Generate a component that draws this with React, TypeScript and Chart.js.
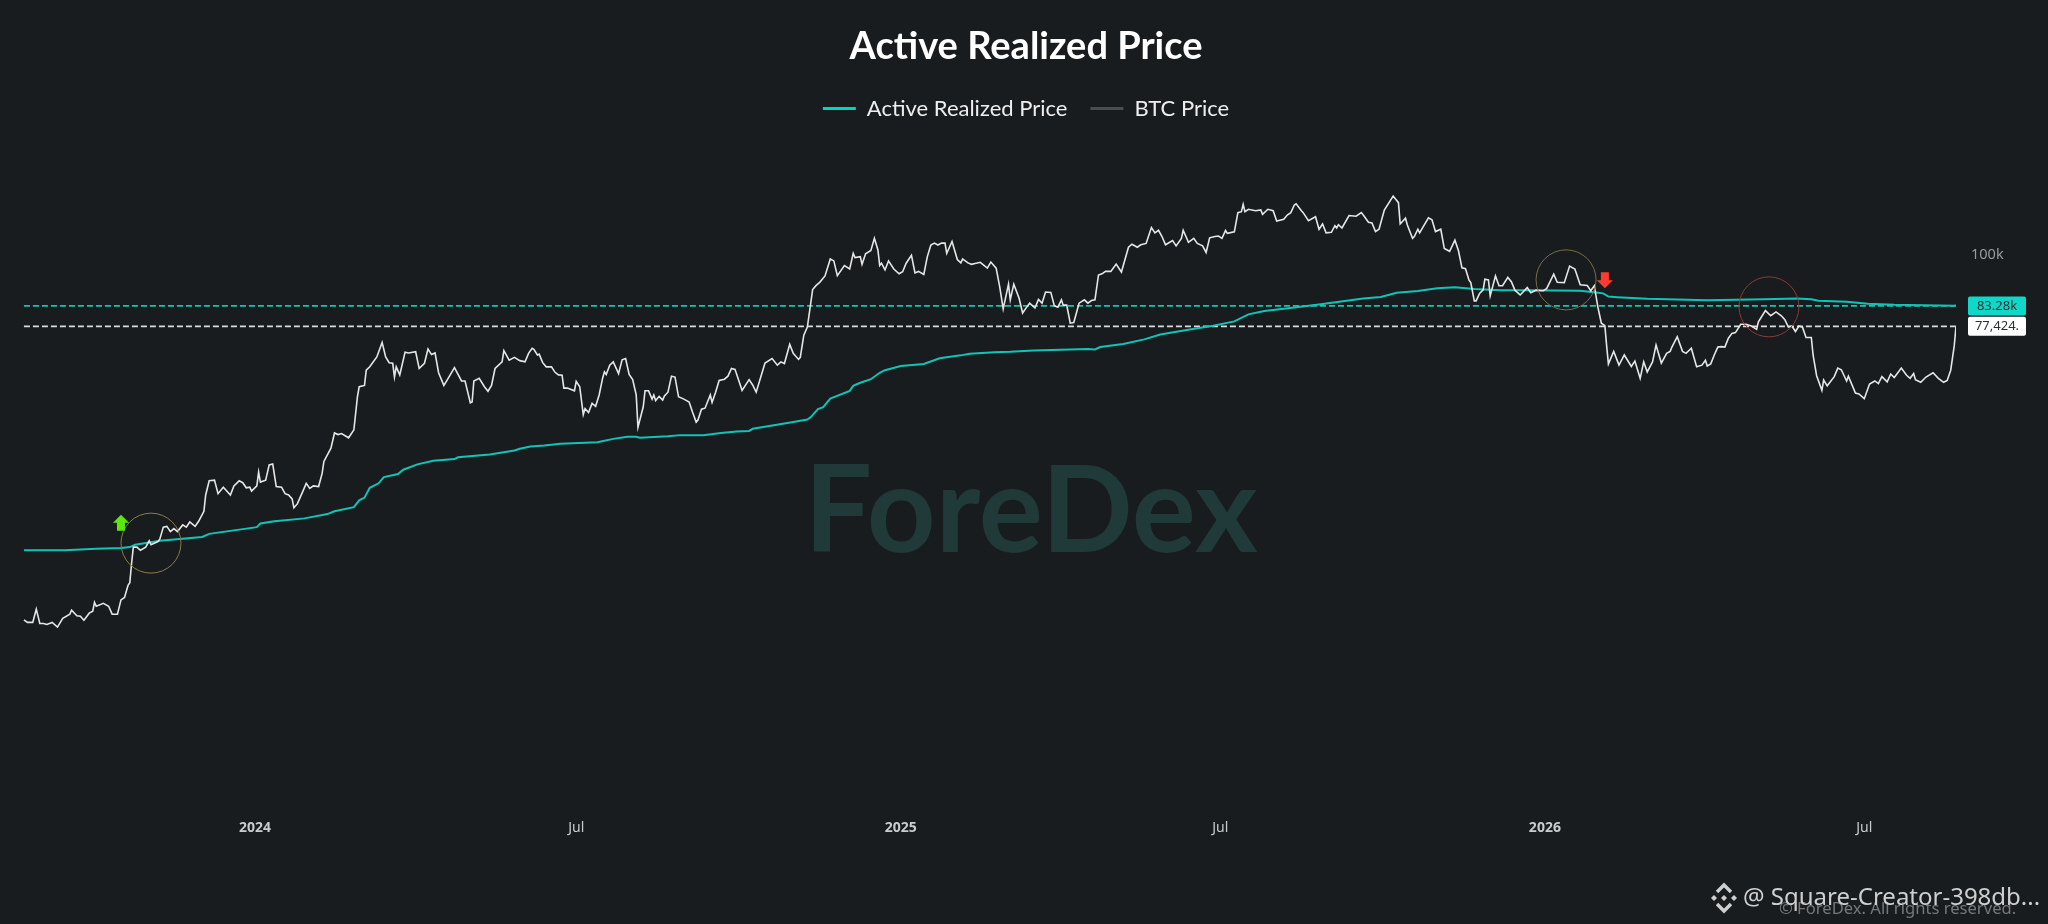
import { useEffect, useRef } from "react";
import { Chart, registerables } from "chart.js";

Chart.register(...registerables);

const BG = "#181c1f";
const CYAN = "#12c4b6";

// days counted from 2024-01-01, prices in thousand USD
const btcDays = [-131,-129,-126,-124,-122,-120,-118,-115,-112,-109,-105,-104,-101,-99,-97,-94,-92,-91,-90,-86,-83,-81,-78,-76,-74,-72,-71,-70,-69,-67,-65,-62,-60,-59,-55,-54,-52,-50,-48,-46,-44,-41,-39,-37,-34,-32,-29,-28,-26,-23,-21,-18,-14,-12,-9,-7,-5,-3,-2,1,2,3,6,8,10,12,15,17,19,21,22,24,27,29,31,33,36,38,39,43,45,47,49,53,56,58,59,62,63,65,69,72,74,76,78,79,80,82,85,87,91,93,96,98,100,102,104,107,109,113,117,119,122,123,124,127,130,132,134,136,140,141,144,147,150,153,155,157,158,160,161,163,165,168,170,172,174,175,177,181,182,184,186,187,189,191,193,195,197,198,199,201,203,206,208,210,212,214,216,217,219,220,221,223,225,226,227,229,231,232,234,236,238,240,243,246,248,250,251,253,255,258,259,261,263,266,268,270,272,276,280,282,284,286,289,293,296,298,300,303,305,308,309,311,313,316,318,320,323,326,328,330,334,337,339,340,343,344,346,349,351,353,354,355,357,359,362,365,367,369,372,374,376,379,381,383,385,387,389,391,392,395,398,400,401,404,406,408,411,415,417,420,422,424,427,428,430,433,435,437,439,442,444,446,448,451,453,455,457,458,460,462,464,467,470,472,474,476,478,480,482,485,488,491,495,497,500,502,505,508,510,512,514,516,520,522,525,526,529,532,534,537,539,541,544,546,548,550,551,555,557,559,560,561,563,567,570,571,574,577,579,583,585,587,589,590,593,594,597,601,603,605,607,610,612,613,614,616,620,624,627,629,631,633,635,637,640,645,648,649,652,653,656,657,659,660,665,667,669,672,674,677,680,682,684,686,688,689,691,692,694,696,697,699,700,703,705,707,710,712,714,717,721,723,726,730,732,736,738,742,745,748,751,755,757,759,761,763,765,766,767,770,773,776,780,782,785,787,789,792,794,797,800,802,803,806,809,811,814,817,820,822,823,825,827,829,831,833,835,837,839,842,845,848,851,852,856,859,862,865,867,869,871,873,875,877,879,882,883,885,888,889,891,895,897,899,902,903,907,909,912,915,918,920,922,925,927,929,933,936,938,940,941,944,947,951,954,957,959,961,963,964];
const btcPrices = [27.15,26.9,26.9,28.2,26.8,26.8,26.7,26.9,26.45,27.3,27.7,28.1,27.55,27.5,27.1,27.8,28,28.9,28.5,28.8,28.5,27.7,27.7,29.15,29.4,30.7,31,33.2,35.2,35.2,34.8,35.2,36,35.5,35.9,36.2,37.8,37.9,37.2,37.6,37.2,38.1,37.8,38.5,37.9,38.6,40,42.4,44.6,44.7,42.6,43.6,42.4,43.8,44.6,44.3,43.5,43.6,43,43.8,46,44.4,44.7,47.2,47.35,43.7,43.6,42.6,42.4,41.8,40.5,41.1,42.9,44.2,43.4,43.8,43.7,45.8,47.8,50.1,52.9,52.6,52.8,52,53.5,60.2,62.4,62.7,66.2,67,69.4,73.1,69.4,68,67.85,64.6,67,65.1,70.6,70.4,70.7,66.6,67.85,71.4,70,70.4,65.6,62.7,64,66.8,63.7,63.7,58.9,59.1,63.7,64.3,62.4,61.4,62.7,66.6,68.2,71,68.6,69.3,68.5,68.2,70.3,71.6,71.3,69.9,70.1,68,67,67,65.7,65.1,65,62.1,62.1,61.5,63.6,62.4,56.5,57.7,56.9,58.8,58.2,60.6,64.4,65.8,65.2,67.4,68.2,65.4,68.7,69,65.2,64,60.6,54,56.7,58.1,61.5,61.5,59.7,60.6,59.4,60.3,59.5,60.4,61.2,64.8,64.6,60.2,59.7,59.1,56.9,55,55.4,57.6,57.8,60.6,59,61.2,63.8,64.1,64.8,66.6,66.4,61.6,64,62.8,61.2,63.8,67.9,69,67.4,68.2,67.8,72.6,70.3,68.8,69.3,75,77.2,88.3,89.6,90.6,92.7,98.5,97.8,92.8,96.2,95,100.5,99,99.3,96.6,100.3,101.5,106,101.7,96.2,97,94.7,97.8,95,93.4,94.1,97,99.8,93.7,94.2,93.2,99.3,103.5,104.2,103.5,104.2,104.2,100.5,104.8,98.3,97.1,98.5,97.1,96.6,96.9,97.3,95.3,97.4,95.3,89.2,82.4,90,85.1,90,85.6,81.2,82.7,84.1,82.7,85.2,84.1,87.5,87.4,83.3,82.9,85.1,83.5,83.5,78.3,78.5,84.1,85.1,84.1,84.9,85.1,93,93.4,94.2,94.2,96.7,94,102.7,103.8,102.7,103.6,104.1,110.2,108.1,109.1,106.7,103.6,105.2,103.2,106,109.1,104.5,106,104.1,103.2,100.8,106.2,106.7,106.9,106,109,107.9,108.5,116.2,116.6,119.7,116.6,117.6,117,117.3,115.5,117.6,117,112.8,113.5,115.2,116.2,119.4,119.9,117,116.2,112.9,114.5,109.5,111.6,108.1,108.3,110.9,110,111.3,110,115,114.7,116.2,114.3,112.3,112,108.6,109.5,117.3,123.3,120.4,111.6,113.9,111.3,106,106.7,109.5,108.1,114.1,113.3,108.6,109.5,102.2,101.2,105.3,101.5,95.4,95.1,91.3,90.5,84.8,84.8,87.1,88.2,91.6,91.4,86.3,92.7,89.5,89.5,92.2,90.8,88.1,86.6,88.9,87.3,88.1,87.9,88.6,93.3,90.6,90.5,96,95,89.8,89.6,87.9,89.5,83,78.3,77.6,72.2,67.7,70.8,67.4,69.9,67.1,68.4,64.3,68.2,65.8,68.2,72.4,67.9,70.3,70.8,71.9,74.6,70.8,70.3,71.6,67,67.4,68.6,67.2,67.7,69.9,71.9,72,71.9,74.2,75.5,75.7,78,78,77.5,76.6,78.7,81.9,80.4,81.5,80.4,79.3,77.2,77.5,76,77.5,77.2,74.4,74.4,69.9,64.9,61.6,63.9,62.6,64.7,66.7,66.3,63.7,64.8,61,60.8,59.8,63,63.7,63.1,64.7,63.5,65.3,64.5,66.7,65,64.3,65.4,64,63.4,64.6,65.6,64.3,63.4,63.8,66.2,72.2,77.4];

const arpDays = [-131,-108,-90,-76,-71,-68,-54,-30,-26,1,3,11,28,41,45,56,59,62,65,70,73,81,84,92,101,113,115,133,147,150,156,164,173,194,203,211,216,218,234,241,254,264,273,280,282,294,305,313,315,319,322,326,337,339,343,349,354,357,366,379,388,400,405,419,428,441,472,476,479,492,504,513,528,543,555,563,572,589,604,628,638,647,659,670,680,691,706,719,751,760,764,767,772,789,823,855,874,882,886,902,914,929,946,963,964];
const arpPrices = [34.8,34.8,35,35.1,35.2,35.5,36,36.5,36.9,37.8,38.3,38.6,39,39.6,40,40.6,41.6,42,43.5,44.2,45.2,45.7,46.4,47.3,47.9,48.2,48.5,49,49.7,50,50.4,50.6,50.9,51.2,51.8,52.2,52.2,52,52.3,52.5,52.5,52.9,53.2,53.3,53.7,54.4,55,55.5,56,57.6,58,59.8,61.5,62.6,63.3,64.1,65.6,66.2,67.2,67.7,69.1,69.8,70.2,70.6,70.7,71,71.4,71.3,71.9,72.7,73.9,75.2,76.4,77.6,78.8,80.8,81.8,82.8,83.8,85.5,86,87.3,87.8,88.7,89,88.5,88.1,88.1,87.9,87.4,87.1,86.1,85.9,85.4,85,85.3,85.5,85.3,84.8,84.5,83.9,83.6,83.5,83.3,83.5];

const levelDays = [-131, 964];
const arpLevel = 83.28;
const btcLevel = 77.424;

const xTickDays = [0, 182, 366, 547, 731, 912];
const xTickLabels = ["2024", "Jul", "2025", "Jul", "2026", "Jul"];
const yTicks = [100];

// circles and arrows drawn over the lines: [day, price]
const circles: [number, number, string][] = [
  [-59, 35.7, "#8d7b4a"],
  [743, 91.4, "#7c6c46"],
  [858, 83, "#8a3b36"],
];
const upArrow: [number, number] = [-76, 39.5];
const downArrow: [number, number] = [765, 88.7];

const overlay = {
  id: "overlay",
  beforeDatasetsDraw(chart: any) {
    const { ctx } = chart;
    ctx.save();
    ctx.fillStyle = "#1f3a38";
    ctx.font = "bold 120px Lato";
    ctx.textAlign = "center";
    ctx.textBaseline = "middle";
    ctx.fillText("ForeDex", 1031, 513);
    ctx.restore();
  },
  afterDatasetsDraw(chart: any) {
    const { ctx, scales, chartArea } = chart;
    const x = scales.x, y = scales.y;
    ctx.save();
    circles.forEach(([d, p, c]) => {
      ctx.beginPath();
      ctx.arc(x.getPixelForValue(d), y.getPixelForValue(p), 30, 0, Math.PI * 2);
      ctx.strokeStyle = c;
      ctx.lineWidth = 1;
      ctx.stroke();
    });
    // green arrow, tip on top
    let ax = x.getPixelForValue(upArrow[0]), ay = y.getPixelForValue(upArrow[1]);
    ctx.fillStyle = "#5ee60f";
    ctx.beginPath();
    ctx.moveTo(ax, ay);
    ctx.lineTo(ax + 8, ay + 8);
    ctx.lineTo(ax + 4, ay + 8);
    ctx.lineTo(ax + 4, ay + 16);
    ctx.lineTo(ax - 4, ay + 16);
    ctx.lineTo(ax - 4, ay + 8);
    ctx.lineTo(ax - 8, ay + 8);
    ctx.closePath();
    ctx.fill();
    // red arrow, tip at the bottom
    ax = x.getPixelForValue(downArrow[0]);
    ay = y.getPixelForValue(downArrow[1]);
    ctx.fillStyle = "#ff3b30";
    ctx.beginPath();
    ctx.moveTo(ax, ay);
    ctx.lineTo(ax + 8, ay - 8);
    ctx.lineTo(ax + 4, ay - 8);
    ctx.lineTo(ax + 4, ay - 16);
    ctx.lineTo(ax - 4, ay - 16);
    ctx.lineTo(ax - 4, ay - 8);
    ctx.lineTo(ax - 8, ay - 8);
    ctx.closePath();
    ctx.fill();

    // last value tags
    const tag = (value: number, text: string, fill: string) => {
      const cy = y.getPixelForValue(value);
      ctx.fillStyle = fill;
      ctx.beginPath();
      ctx.roundRect(chartArea.right + 12, cy - 9.5, 58, 19, 2);
      ctx.fill();
      ctx.fillStyle = "#2a3134";
      ctx.font = "13px 'Noto Sans'";
      ctx.textAlign = "center";
      ctx.textBaseline = "middle";
      ctx.fillText(text, chartArea.right + 41, cy);
    };
    tag(arpLevel, "83.28k", "#0fd8c8");
    tag(btcLevel, "77,424.", "#ffffff");

    // footer and repost mark
    ctx.textAlign = "left";
    ctx.textBaseline = "middle";
    ctx.fillStyle = "#74787a";
    ctx.font = "16.6px 'Noto Sans'";
    ctx.fillText("© ForeDex. All rights reserved.", 1779, 909);
    ctx.fillStyle = "#cfcfcf";
    ctx.font = "24px 'Noto Sans'";
    ctx.fillText("@ Square-Creator-398db...", 1743, 898);
    const diamond = (cx: number, cy: number, r: number) => {
      ctx.beginPath();
      ctx.moveTo(cx, cy - r);
      ctx.lineTo(cx + r, cy);
      ctx.lineTo(cx, cy + r);
      ctx.lineTo(cx - r, cy);
      ctx.closePath();
      ctx.fill();
    };
    diamond(1724, 898, 3);
    diamond(1714, 898, 3);
    diamond(1734, 898, 3);
    ctx.strokeStyle = "#cfcfcf";
    ctx.lineWidth = 3.4;
    ctx.beginPath();
    ctx.moveTo(1717, 892);
    ctx.lineTo(1724, 885);
    ctx.lineTo(1731, 892);
    ctx.moveTo(1717, 904);
    ctx.lineTo(1724, 911);
    ctx.lineTo(1731, 904);
    ctx.stroke();
    ctx.restore();
  },
};

export default function App() {
  const ref = useRef<HTMLCanvasElement>(null);
  useEffect(() => {
    document.body.style.margin = "0";
    document.body.style.background = BG;
    const chart = new Chart(ref.current!, {
      type: "line",
      data: {
        datasets: [
          { label: "BTC Price", data: btcDays.map((d, i) => ({ x: d, y: btcPrices[i] })), borderColor: "#e6e6e6", borderWidth: 1.6 },
          { label: "Active Realized Price", data: arpDays.map((d, i) => ({ x: d, y: arpPrices[i] })), borderColor: CYAN, borderWidth: 2 },
          { label: "arp level", data: levelDays.map((d) => ({ x: d, y: arpLevel })), borderColor: CYAN, borderWidth: 1.8, borderDash: [6, 3] },
          { label: "btc level", data: levelDays.map((d) => ({ x: d, y: btcLevel })), borderColor: "#dcdcdc", borderWidth: 1.8, borderDash: [6, 3] },
        ],
      },
      options: {
        responsive: false,
        animation: false,
        elements: { point: { radius: 0 }, line: { tension: 0 } },
        layout: { padding: { left: 4, bottom: 82 } },
        plugins: {
          tooltip: { enabled: false },
          title: {
            display: true,
            text: "Active Realized Price",
            color: "#ffffff",
            font: { family: "Lato", size: 38, weight: "bold" },
            padding: { top: 23.5, bottom: 5.5 },
          },
          legend: {
            position: "top",
            labels: {
              boxWidth: 33,
              boxHeight: 3,
              padding: 23,
              font: { family: "Lato", size: 22 },
              color: "#eeeeee",
              generateLabels: () => [
                { text: "Active Realized Price", fillStyle: "#00d4c2", strokeStyle: "#00d4c2", lineWidth: 0, fontColor: "#eeeeee" },
                { text: "BTC Price", fillStyle: "#4a4c4d", strokeStyle: "#4a4c4d", lineWidth: 0, fontColor: "#eeeeee" },
              ],
            },
          },
        },
        scales: {
          x: {
            type: "linear",
            min: -142.3,
            max: levelDays[1],
            grid: { display: false, drawTicks: false },
            border: { display: false },
            afterBuildTicks: (axis: any) => {
              axis.ticks = xTickDays.map((value) => ({ value }));
            },
            ticks: {
              autoSkip: false,
              maxRotation: 0,
              padding: 6,
              color: "#c9cbcc",
              font: (c: any) => ({ family: "Noto Sans", size: 14, weight: xTickLabels[c.index] === "Jul" ? "normal" : "bold" }),
              callback: (value: any) => xTickLabels[xTickDays.indexOf(value)],
            },
          },
          y: {
            type: "logarithmic",
            position: "right",
            min: 13.61,
            max: 156.3,
            grid: { display: false, drawTicks: false },
            border: { display: false },
            afterBuildTicks: (axis: any) => {
              axis.ticks = yTicks.map((value) => ({ value }));
            },
            afterFit: (axis: any) => {
              axis.width = 92;
            },
            ticks: {
              padding: 15,
              color: "#9a9c9d",
              font: { family: "Noto Sans", size: 14.5 },
              callback: (value: any) => value + "k",
            },
          },
        },
      },
      plugins: [overlay],
    });
    return () => chart.destroy();
  }, []);
  return (
    <div style={{ width: 2048, height: 924, background: BG }}>
      <canvas ref={ref} width={2048} height={924} />
    </div>
  );
}
